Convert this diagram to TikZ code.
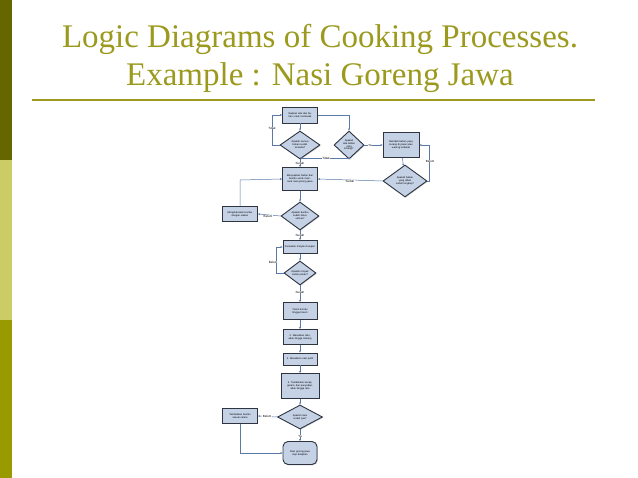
\documentclass[tikz,border=0pt]{standalone}
\usepackage{fontspec}
\setmainfont{Liberation Serif}
\newfontfamily\tinyfont{Liberation Sans}
\usetikzlibrary{shapes.geometric,arrows.meta,shadows}
\definecolor{olive}{HTML}{9C9A1E}
\definecolor{bardark}{HTML}{666600}
\definecolor{barlight}{HTML}{CCCC66}
\definecolor{barmid}{HTML}{999900}
\definecolor{boxfill}{HTML}{C5D2E6}
\definecolor{boxline}{HTML}{2E3440}
\definecolor{lnk}{HTML}{5A78A8}
\begin{document}
\begin{tikzpicture}[x=1pt,y=-1pt,
  base/.style={fill=boxfill,draw=boxline,line width=0.9pt,drop shadow={shadow xshift=0.8pt,shadow yshift=-0.8pt,opacity=0.4},
    font=\tinyfont\fontsize{2.5}{2.9}\selectfont,align=center,inner sep=0.5pt},
  pbox/.style={base,rectangle,minimum width=#1,text width=#1-3pt},
  dec/.style={base,diamond,aspect=1.5,inner sep=0pt,text width=18pt},
  term/.style={base,rectangle,rounded corners=5pt,minimum width=34pt,minimum height=23pt,text width=30pt},
  lk/.style={draw=lnk,line width=0.5pt,-{Stealth[length=2.2pt,width=2pt]}},
  lab/.style={font=\tinyfont\fontsize{3}{3}\selectfont,text=black,fill=white,inner sep=0.3pt}]
\useasboundingbox (0,0) rectangle (638,478);
\fill[white] (0,0) rectangle (638,478);
\fill[bardark] (0,0) rectangle (12,160);
\fill[barlight] (0,160) rectangle (12,320);
\fill[barmid] (0,320) rectangle (12,478);
\node[text=olive,font=\fontsize{33}{38}\selectfont,align=center] (title) at (320,58) {Logic Diagrams of Cooking Processes.\\Example : Nasi Goreng Jawa};
\draw[olive,line width=1.2pt] (32,100) -- (595,100);

\node[pbox=35pt,minimum height=16pt] (A) at (300,115) {Siapkan alat dan bahan untuk memasak};
\node[dec,minimum width=40pt,minimum height=28pt] (B) at (300,145) {Apakah semua bahan sudah tersedia?};
\node[dec,minimum width=30pt,minimum height=28pt,text width=13pt] (C) at (349,145) {Apakah ada bahan yang kurang?};
\node[pbox=36pt,minimum height=25pt] (D) at (401,145) {Membeli bahan yang kurang di pasar atau warung terdekat};
\node[pbox=35pt,minimum height=23pt] (E) at (300,179) {Menyiapkan bahan dan bumbu untuk membuat nasi goreng jawa};
\node[dec,minimum width=44pt,minimum height=32pt] (F) at (405,181) {Apakah bahan yang dibeli sudah lengkap?};
\node[pbox=35pt,minimum height=15pt] (G) at (240,214) {Menghaluskan bumbu dengan ulekan};
\node[dec,minimum width=38pt,minimum height=28pt] (H) at (300,216) {Apakah bumbu sudah halus semua?};
\node[pbox=34pt,minimum height=13pt] (I) at (300,247) {Panaskan minyak di wajan};
\node[dec,minimum width=32pt,minimum height=24pt,text width=20pt] (J) at (300,273) {Apakah minyak sudah panas?};
\node[pbox=34pt,minimum height=17pt] (K) at (300,311) {Tumis bumbu hingga harum};
\node[pbox=34pt,minimum height=15pt] (L) at (300,337) {2. Masukkan telur, aduk hingga matang};
\node[pbox=34pt,minimum height=12pt] (M) at (300,359) {3. Masukkan nasi putih};
\node[pbox=38pt,minimum height=25pt] (N) at (300,386) {4. Tambahkan kecap, garam, dan penyedap, aduk hingga rata};
\node[dec,minimum width=45pt,minimum height=24pt,text width=22pt] (O) at (300,417) {Apakah rasa sudah pas?};
\node[pbox=35pt,minimum height=15pt] (P) at (240,416) {Tambahkan bumbu sesuai selera};
\node[term] (Q) at (300,453) {Nasi goreng jawa siap disajikan};

\draw[lk] (A) -- (B);
\draw[lk] (B.west) -- (272,145) -- (272,115) -- (A.west);
\node[lab] (t1) at (272,128) {Tidak};
\draw[lk] (A.east) -- (349,115) -- (C.north);
\draw[lk] (C.east) -- (D.west);
\node[lab] (t2) at (370,145) {Ya};
\draw[lk] (C.south) -- (349,158) -- (300,158);
\node[lab] (t3) at (326,158) {Tidak};
\draw[lk] (B) -- (E);
\node[lab] (t4) at (300,163) {Sudah};
\draw[lk] (D) -- (F);
\draw[lk] (F.east) -- (429,181) -- (429,145) -- (D.east);
\node[lab] (t5) at (430,161) {Belum};
\draw[lk] (F.west) -- (E.east);
\node[lab] (t6) at (350,181) {Sudah};
\draw[lk] (G.north) -- (240,180) -- (E.west);
\draw[lk] (E) -- (H);
\draw[lk] (H.west) -- (G.east);
\node[lab] (t7) at (268,216) {Belum};
\draw[lk] (H) -- (I);
\node[lab] (t8) at (300,235) {Sudah};
\draw[lk] (I) -- (J);
\draw[lk] (J.west) -- (276,273) -- (276,247) -- (I.west);
\node[lab] (t9) at (273,262) {Belum};
\draw[lk] (J) -- (K);
\node[lab] (t10) at (300,292) {Sudah};
\draw[lk] (K) -- (L);
\draw[lk] (L) -- (M);
\draw[lk] (M) -- (N);
\draw[lk] (N) -- (O);
\draw[lk] (O.west) -- (P.east);
\node[lab] (t11) at (267,416) {Belum};
\draw[lk] (O) -- (Q);
\node[lab] (t12) at (300,436) {Ya};
\draw[lk] (P.south) -- (240,453) -- (Q.west);
\end{tikzpicture}
\end{document}
